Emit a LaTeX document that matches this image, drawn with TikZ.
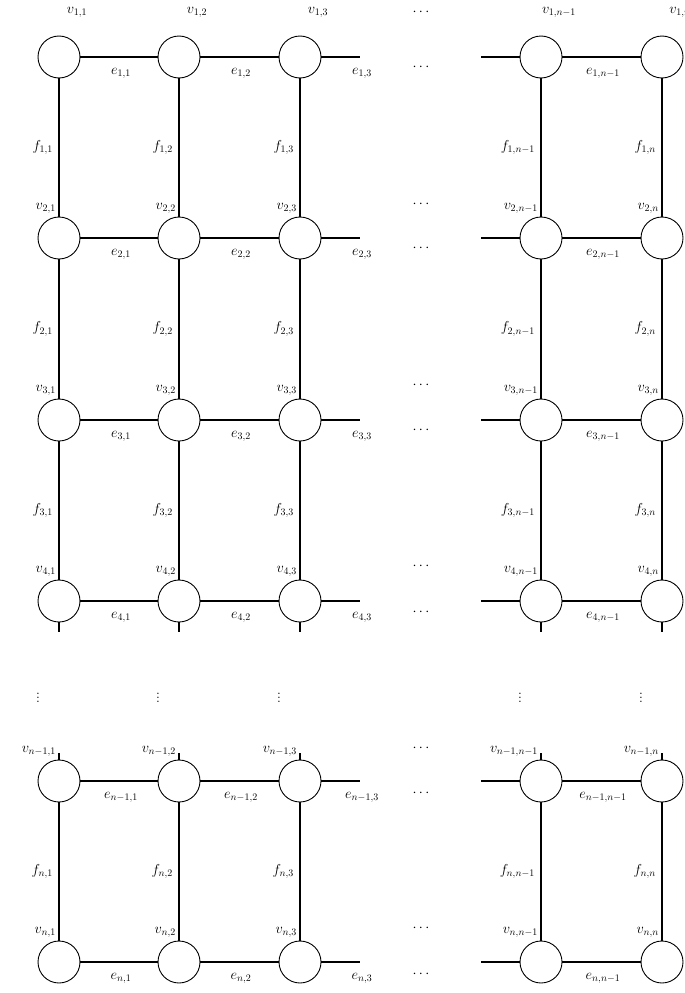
\documentclass[tikz,border=0pt]{standalone}
\usetikzlibrary{calc}
\begin{document}
\begin{tikzpicture}[x=1pt,y=-1pt,
  vtx/.style={circle,draw,line width=0.9pt,minimum size=42pt,inner sep=0pt,fill=white},
  edg/.style={line width=1.8pt},
  lab/.style={font=\fontsize{14}{16}\selectfont,inner sep=1pt}]
\useasboundingbox (0,0) rectangle (685,993);
\def\xs{59,179,300,541,662}
\def\ys{57,238,420,601,781,962}
% row/col labels
\def\cn{{"1","2","3","n-1","n"}}
\def\rn{{"1","2","3","4","n-1","n"}}
\foreach \x [count=\i] in \xs { \foreach \y [count=\j] in \ys {
  \coordinate (p\j\i) at (\x,\y); }}
% edges
\foreach \j in {1,...,6}{
  \draw[edg] (p\j1) -- (p\j2) -- (p\j3) -- ++(60,0);
  \draw[edg] (p\j4) -- ++(-60,0);
  \draw[edg] (p\j4) -- (p\j5);}
\foreach \i in {1,...,5}{
  \draw[edg] (p1\i) -- (p4\i) -- ++(0,31);
  \draw[edg] (p5\i) -- (p6\i);
  \draw[edg] (p5\i) -- ++(0,-28);}
% vertices
\foreach \i in {1,...,5}{ \foreach \j in {1,...,6}{ \node[vtx] (v\j\i) at (p\j\i) {}; }}
% labels
\foreach \i in {1,...,5}{ \foreach \j in {1,...,6}{
  \pgfmathsetmacro\c{\cn[\i-1]}\pgfmathsetmacro\r{\rn[\j-1]}
  \ifnum\j=1
    \node[lab] at ($(p\j\i)+(18,-45)$) {$v_{\r,\c}$};
  \else
    \node[lab,anchor=south east] at ($(p\j\i)+(-2,-23)$) {$v_{\r,\c}$};
  \fi
  \ifnum\i<5
    \node[lab] at ($(p\j\i)+(62,16)$) {$e_{\r,\c}$};
  \fi
}}
\foreach \i in {1,...,5}{
  \pgfmathsetmacro\c{\cn[\i-1]}
  \foreach \j/\a/\r in {1/2/1,2/3/2,3/4/3,5/6/n}{
    \node[lab,anchor=east] at ($(p\j\i)!0.5!(p\a\i)+(-5,0)$) {$f_{\r,\c}$};}
  \node[lab] at ($(p5\i)+(-21,-86)$) {$\vdots$};
}
\foreach \y in {12,67,204,248,385,430,566,612,748,793,928,974}
  \node[lab] at (421,\y) {$\cdots$};
\end{tikzpicture}
\end{document}
